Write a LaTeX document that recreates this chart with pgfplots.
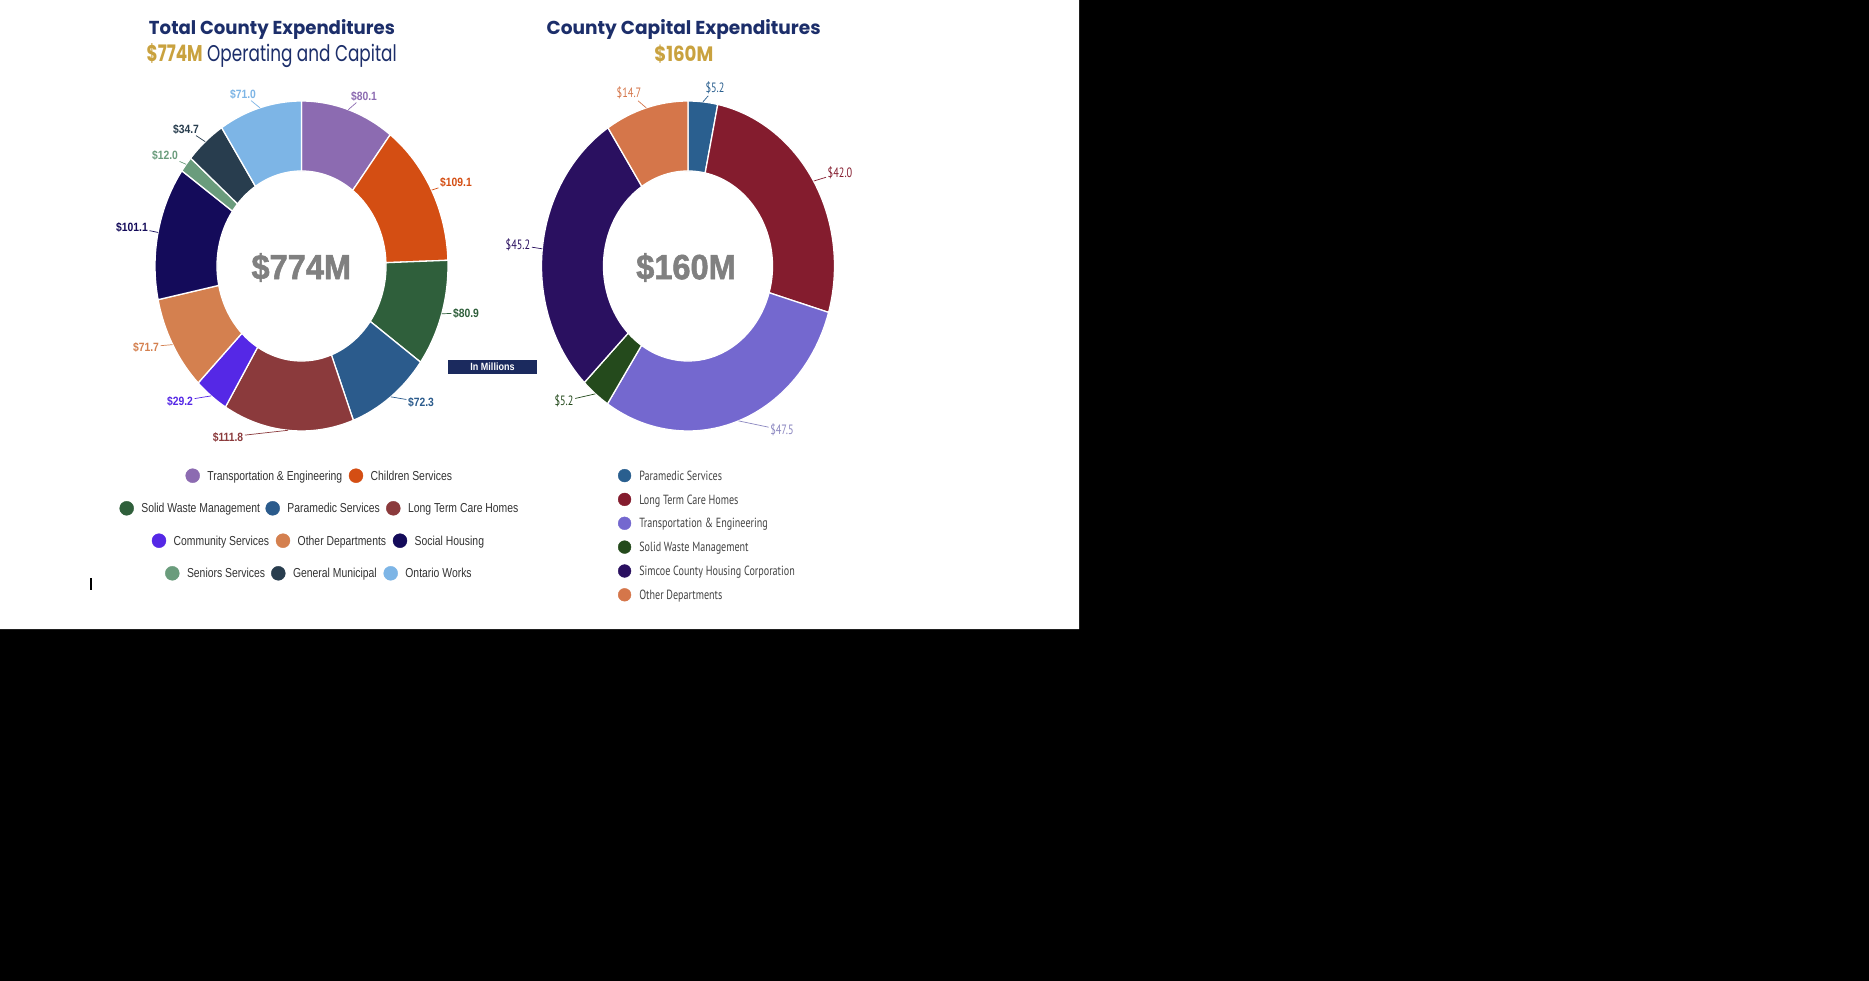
\documentclass[border=0pt]{standalone}
\usepackage{fontspec}
\usepackage{graphicx}
\usepackage{pgfplots}
\usepackage{pgfplotstable}
\pgfplotsset{compat=1.18}
\setmainfont{Liberation Sans}
\newfontfamily\titlefont{Poppins}
\newfontfamily\lblfont{Liberation Sans}[FakeStretch=0.86]
\newfontfamily\legfont{Liberation Sans}[FakeStretch=0.8]
\newfontfamily\rlegfont{PT Sans}[FakeStretch=0.76]
\newfontfamily\bigfont{Liberation Sans}[FakeStretch=0.93, BoldFeatures={FakeBold=1.6}]

\definecolor{navy}{HTML}{1C2E6A}
\definecolor{gold}{HTML}{C9A23F}
\definecolor{boxnavy}{HTML}{1B2A5E}
\definecolor{bigtxt}{HTML}{808080}
% total expenditures
\definecolor{cTrans}{HTML}{8C6BB1}
\definecolor{cChild}{HTML}{D44E13}
\definecolor{cWaste}{HTML}{2F5F3B}
\definecolor{cPara}{HTML}{2B5B8C}
\definecolor{cLTC}{HTML}{8B3A3C}
\definecolor{cComm}{HTML}{5528E6}
\definecolor{cOther}{HTML}{D4804F}
\definecolor{cSocial}{HTML}{140B5A}
\definecolor{cSenior}{HTML}{6A9C7C}
\definecolor{cGen}{HTML}{283D4E}
\definecolor{cOntario}{HTML}{7DB5E6}
% capital expenditures
\definecolor{rPara}{HTML}{2A5F8F}
\definecolor{rLTC}{HTML}{841C2E}
\definecolor{rTrans}{HTML}{7468CF}
\definecolor{rTransL}{HTML}{8A86C0}
\definecolor{rWaste}{HTML}{244A1C}
\definecolor{rSimcoe}{HTML}{2A1060}
\definecolor{rOther}{HTML}{D5764A}

% value, slice colour, label colour, label position (px, y down)
\pgfplotstableread[col sep=comma]{
value,color,lcol,lx,ly
80.1,cTrans,cTrans,364,96
109.1,cChild,cChild,456,182
80.9,cWaste,cWaste,466,313
72.3,cPara,cPara,421,402
111.8,cLTC,cLTC,228,437
29.2,cComm,cComm,180,401
71.7,cOther,cOther,146,347
101.1,cSocial,cSocial,132,227
12.0,cSenior,cSenior,165,155
34.7,cGen,cGen,186,129
71.0,cOntario,cOntario,243,94
}\totaldata

\pgfplotstableread[col sep=comma]{
value,color,lcol,lx,ly
5.2,rPara,rPara,715,88
42.0,rLTC,rLTC,840,173
47.5,rTrans,rTransL,782,430
5.2,rWaste,rWaste,564,401
45.2,rSimcoe,rSimcoe,518,245
14.7,rOther,rOther,629,93
}\capitaldata

\def\dRx{146.5}\def\dRy{165}\def\drx{84.5}\def\dry{95}

% #1 table, #2 centre x, #3 centre y, #4 label font
\newcommand\donut[4]{%
  \pgfplotstablegetrowsof{#1}%
  \pgfmathtruncatemacro\nlast{\pgfplotsretval-1}%
  \gdef\dsum{0}%
  \foreach \i in {0,...,\nlast}{%
    \pgfplotstablegetelem{\i}{value}\of{#1}%
    \pgfmathsetmacro\dtmp{\dsum+\pgfplotsretval}\xdef\dsum{\dtmp}}%
  \gdef\dcum{0}%
  \foreach \i in {0,...,\nlast}{%
    \pgfplotstablegetelem{\i}{value}\of{#1}\let\val\pgfplotsretval
    \pgfplotstablegetelem{\i}{color}\of{#1}\let\col\pgfplotsretval
    \pgfplotstablegetelem{\i}{lcol}\of{#1}\let\lc\pgfplotsretval
    \pgfplotstablegetelem{\i}{lx}\of{#1}\let\lx\pgfplotsretval
    \pgfplotstablegetelem{\i}{ly}\of{#1}\let\ly\pgfplotsretval
    \pgfmathsetmacro\angA{90-\dcum/\dsum*360}%
    \pgfmathsetmacro\angB{90-(\dcum+\val)/\dsum*360}%
    \pgfmathsetmacro\angM{(\angA+\angB)/2}%
    \pgfmathsetmacro\xA{#2+\dRx*cos(\angA)}\pgfmathsetmacro\yA{#3-\dRy*sin(\angA)}%
    \pgfmathsetmacro\xB{#2+\drx*cos(\angB)}\pgfmathsetmacro\yB{#3-\dry*sin(\angB)}%
    \pgfmathsetmacro\xM{#2+\dRx*cos(\angM)}\pgfmathsetmacro\yM{#3-\dRy*sin(\angM)}%
    \filldraw[fill=\col, draw=white, line width=1.3pt]
      (axis cs:\xA,\yA) arc[start angle=\angA, end angle=\angB, x radius=\dRx pt, y radius=\dRy pt]
      -- (axis cs:\xB,\yB) arc[start angle=\angB, end angle=\angA, x radius=\drx pt, y radius=\dry pt]
      -- cycle;
    \node[font=#4, text=\lc, inner sep=1.5pt] (lbl) at (axis cs:\lx,\ly) {\$\val};
    \draw[\lc, line width=0.7pt] (axis cs:\xM,\yM) -- (lbl);
    \pgfmathsetmacro\dtmp{\dcum+\val}\xdef\dcum{\dtmp}%
  }}

% marker x, y, colour, text, mark radius, font
\newcommand\legitem[6]{%
  \addplot[only marks, mark=*, mark size=#5, color=#3] coordinates {(#1,#2)};
  \node[anchor=base west, xshift=14.5pt, yshift=-4.6pt, inner sep=0pt, font=#6] at (axis cs:#1,#2) {#4};
}

\begin{document}
\begin{tikzpicture}
\begin{axis}[
    x=1pt, y=1pt, y dir=reverse,
    xmin=0, xmax=1869, ymin=0, ymax=981,
    hide axis, clip=false,
  ]
  % page: white panel on black
  \addplot[fill=black, draw=none] coordinates {(0,0) (1869,0) (1869,981) (0,981) (0,0)};
  \addplot[fill=white, draw=none] coordinates {(0,0) (1079,0) (1079,629) (0,629) (0,0)};
  \addplot[black, line width=1.8pt, no marks] coordinates {(91,578) (91,590)};

  \pgfplotsextra{%
    \donut{\totaldata}{301.5}{266}{\lblfont\bfseries\fontsize{12}{12}\selectfont}
    \donut{\capitaldata}{688}{266}{\rlegfont\fontsize{13.5}{13.5}\selectfont}
  }

  % titles
  \node[anchor=base, inner sep=0pt] at (axis cs:272,35)
    {\resizebox{246pt}{15pt}{\titlefont\bfseries\color{navy}Total County Expenditures}};
  \node[anchor=base, inner sep=0pt] at (axis cs:271.7,61.5)
    {\resizebox{250pt}{18pt}{\titlefont{\bfseries\color{gold}\$774M} \color{navy}Operating and Capital}};
  \node[anchor=base, inner sep=0pt] at (axis cs:683.7,35)
    {\resizebox{274pt}{15pt}{\titlefont\bfseries\color{navy}County Capital Expenditures}};
  \node[anchor=base, inner sep=0pt] at (axis cs:683.8,61.7)
    {\resizebox{59pt}{16.5pt}{\titlefont\bfseries\color{gold}\$160M}};

  % centre totals
  \node[font=\bigfont\bfseries\fontsize{35}{35}\selectfont, text=bigtxt] at (axis cs:301.3,267.5) {\$774M};
  \node[font=\bigfont\bfseries\fontsize{35}{35}\selectfont, text=bigtxt] at (axis cs:686,267.5) {\$160M};

  % in millions tag
  \node[fill=boxnavy, draw=white, line width=0.6pt, minimum width=90pt, minimum height=15pt,
        inner sep=0pt, text=white, font=\lblfont\bfseries\fontsize{10.5}{10.5}\selectfont]
        at (axis cs:492.5,366.7) {In Millions};

  % legend, total expenditures
  \def\lf{\legfont\fontsize{13}{13}\selectfont\color[HTML]{333333}}
  \legitem{192.7}{475.7}{cTrans}{Transportation \& Engineering}{7}{\lf}
  \legitem{356}{475.7}{cChild}{Children Services}{7}{\lf}
  \legitem{126.7}{508.3}{cWaste}{Solid Waste Management}{7}{\lf}
  \legitem{272.7}{508.3}{cPara}{Paramedic Services}{7}{\lf}
  \legitem{393.3}{508.3}{cLTC}{Long Term Care Homes}{7}{\lf}
  \legitem{159}{540.7}{cComm}{Community Services}{7}{\lf}
  \legitem{283}{540.7}{cOther}{Other Departments}{7}{\lf}
  \legitem{400}{540.7}{cSocial}{Social Housing}{7}{\lf}
  \legitem{172.3}{573.3}{cSenior}{Seniors Services}{7}{\lf}
  \legitem{278.3}{573.3}{cGen}{General Municipal}{7}{\lf}
  \legitem{390.7}{573.3}{cOntario}{Ontario Works}{7}{\lf}

  % legend, capital expenditures
  \def\rf{\rlegfont\fontsize{13.3}{13.3}\selectfont\color[HTML]{444444}}
  \legitem{624.6}{475.6}{rPara}{Paramedic Services}{6.4}{\rf}
  \legitem{624.6}{499.4}{rLTC}{Long Term Care Homes}{6.4}{\rf}
  \legitem{624.6}{523.3}{rTrans}{Transportation \& Engineering}{6.4}{\rf}
  \legitem{624.6}{547.1}{rWaste}{Solid Waste Management}{6.4}{\rf}
  \legitem{624.6}{571}{rSimcoe}{Simcoe County Housing Corporation}{6.4}{\rf}
  \legitem{624.6}{594.8}{rOther}{Other Departments}{6.4}{\rf}
\end{axis}
\end{tikzpicture}
\end{document}
